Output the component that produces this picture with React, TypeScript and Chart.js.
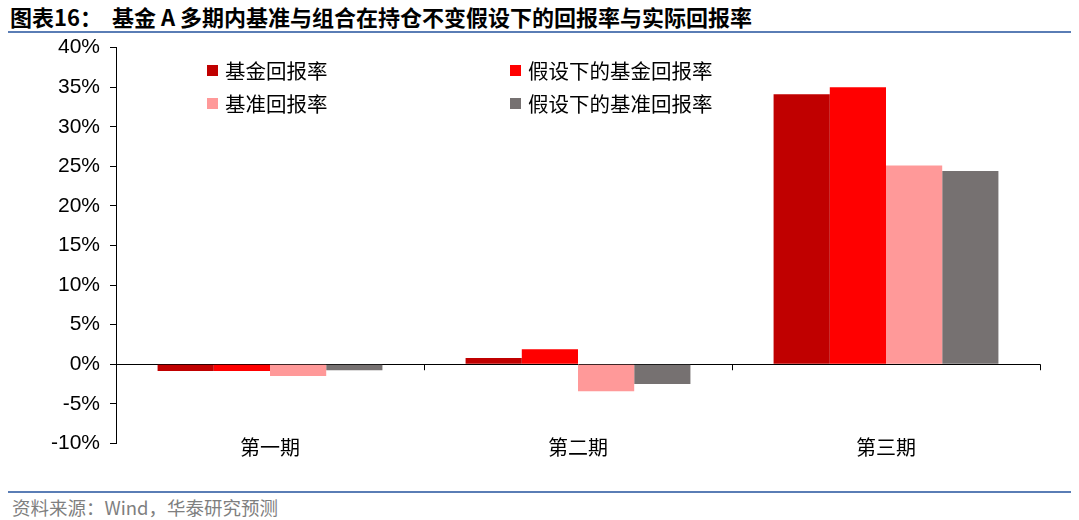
import React, { useEffect, useRef } from "react";
import { Chart, registerables } from "chart.js";

Chart.register(...registerables);

const categories = ["第一期", "第二期", "第三期"];
const fundReturn = [-0.85, 0.8, 34.1];
const assumedFundReturn = [-0.85, 1.9, 35.0];
const benchmarkReturn = [-1.5, -3.4, 25.1];
const assumedBenchmarkReturn = [-0.75, -2.5, 24.4];
const seriesNames = ["基金回报率", "假设下的基金回报率", "基准回报率", "假设下的基准回报率"];
const seriesColors = ["#C00000", "#FF0000", "#FF9999", "#767171"];
const yMin = -10;
const yMax = 40;
const yStep = 5;

const CJK = '"Noto Sans CJK SC", "Noto Sans", sans-serif';

const categoryMarks = {
  id: "categoryMarks",
  afterDraw(chart: any) {
    const { ctx, chartArea, scales } = chart;
    const xs = scales.x;
    const ys = scales.y;
    const zeroY = ys.getPixelForValue(0);
    const n = categories.length;
    const bounds: number[] = [chartArea.left];
    for (let i = 0; i < n - 1; i++) {
      bounds.push((xs.getPixelForValue(i) + xs.getPixelForValue(i + 1)) / 2);
    }
    bounds.push(chartArea.right);
    ctx.save();
    ctx.strokeStyle = "#000";
    ctx.lineWidth = 1;
    bounds.forEach((b) => {
      const x = Math.round(b) + 0.5;
      ctx.beginPath();
      ctx.moveTo(x, zeroY);
      ctx.lineTo(x, zeroY + 6);
      ctx.stroke();
    });
    ctx.fillStyle = "#000";
    ctx.font = `20px ${CJK}`;
    ctx.textAlign = "center";
    ctx.textBaseline = "middle";
    categories.forEach((c, i) => {
      ctx.fillText(c, xs.getPixelForValue(i), chartArea.bottom + 4);
    });
    ctx.restore();
  },
};

export default function App() {
  const ref = useRef<HTMLCanvasElement | null>(null);

  useEffect(() => {
    document.body.style.margin = "0";
    if (!ref.current) return;
    const data = [fundReturn, assumedFundReturn, benchmarkReturn, assumedBenchmarkReturn];
    const chart = new Chart(ref.current, {
      type: "bar",
      data: {
        labels: categories,
        datasets: data.map((d, i) => ({
          label: seriesNames[i],
          data: d,
          backgroundColor: seriesColors[i],
          borderWidth: 0,
          categoryPercentage: 0.73,
          barPercentage: 1,
        })),
      },
      options: {
        animation: false,
        responsive: true,
        maintainAspectRatio: false,
        layout: { padding: { left: 0, right: 39, top: 0, bottom: 0 } },
        plugins: { legend: { display: false }, tooltip: { enabled: false } },
        scales: {
          x: { display: false },
          y: {
            min: yMin,
            max: yMax,
            afterFit: (s: any) => {
              s.width = 116;
            },
            border: { display: true, color: "#000", width: 1 },
            grid: {
              drawOnChartArea: true,
              color: (c: any) => (c.tick && c.tick.value === 0 ? "#000" : "rgba(0,0,0,0)"),
              tickColor: "#000",
              tickLength: 6,
              lineWidth: 1,
            },
            ticks: {
              stepSize: yStep,
              color: "#000",
              padding: 10,
              font: { family: '"Liberation Sans", Arial, sans-serif', size: 21 },
              callback: (v: any) => `${v}%`,
            },
          },
        },
      },
      plugins: [categoryMarks],
    });
    return () => chart.destroy();
  }, []);

  const legendItem = (i: number, left: number, top: number) => (
    <div
      key={i}
      style={{ position: "absolute", left, top, display: "flex", alignItems: "center", whiteSpace: "nowrap" }}
    >
      <span style={{ display: "inline-block", width: 11, height: 11, background: seriesColors[i], marginRight: 7 }} />
      <span style={{ fontFamily: CJK, fontSize: 20.5, color: "#000", lineHeight: "24px" }}>{seriesNames[i]}</span>
    </div>
  );

  return (
    <div style={{ position: "relative", width: 1079, height: 520, background: "#fff", overflow: "hidden" }}>
      <div
        style={{
          position: "absolute",
          left: 10,
          top: 3,
          fontFamily: CJK,
          fontWeight: 700,
          fontSize: 22,
          lineHeight: "27px",
          color: "#000",
          whiteSpace: "pre",
        }}
      >
        {"图表16：  基金 A 多期内基准与组合在持仓不变假设下的回报率与实际回报率"}
      </div>
      <div style={{ position: "absolute", left: 8, top: 31, width: 1063, height: 2, background: "#5A7DB5" }} />
      <div style={{ position: "absolute", left: 0, top: 25, width: 1079, height: 441 }}>
        <canvas ref={ref} />
      </div>
      {legendItem(0, 207, 58)}
      {legendItem(1, 510, 58)}
      {legendItem(2, 207, 91)}
      {legendItem(3, 510, 91)}
      <div style={{ position: "absolute", left: 8, top: 491, width: 1063, height: 2, background: "#5A7DB5" }} />
      <div
        style={{
          position: "absolute",
          left: 12,
          top: 495,
          fontFamily: CJK,
          fontSize: 18.5,
          lineHeight: "24px",
          color: "#7F7F7F",
          whiteSpace: "pre",
        }}
      >
        {"资料来源：Wind，华泰研究预测"}
      </div>
    </div>
  );
}
